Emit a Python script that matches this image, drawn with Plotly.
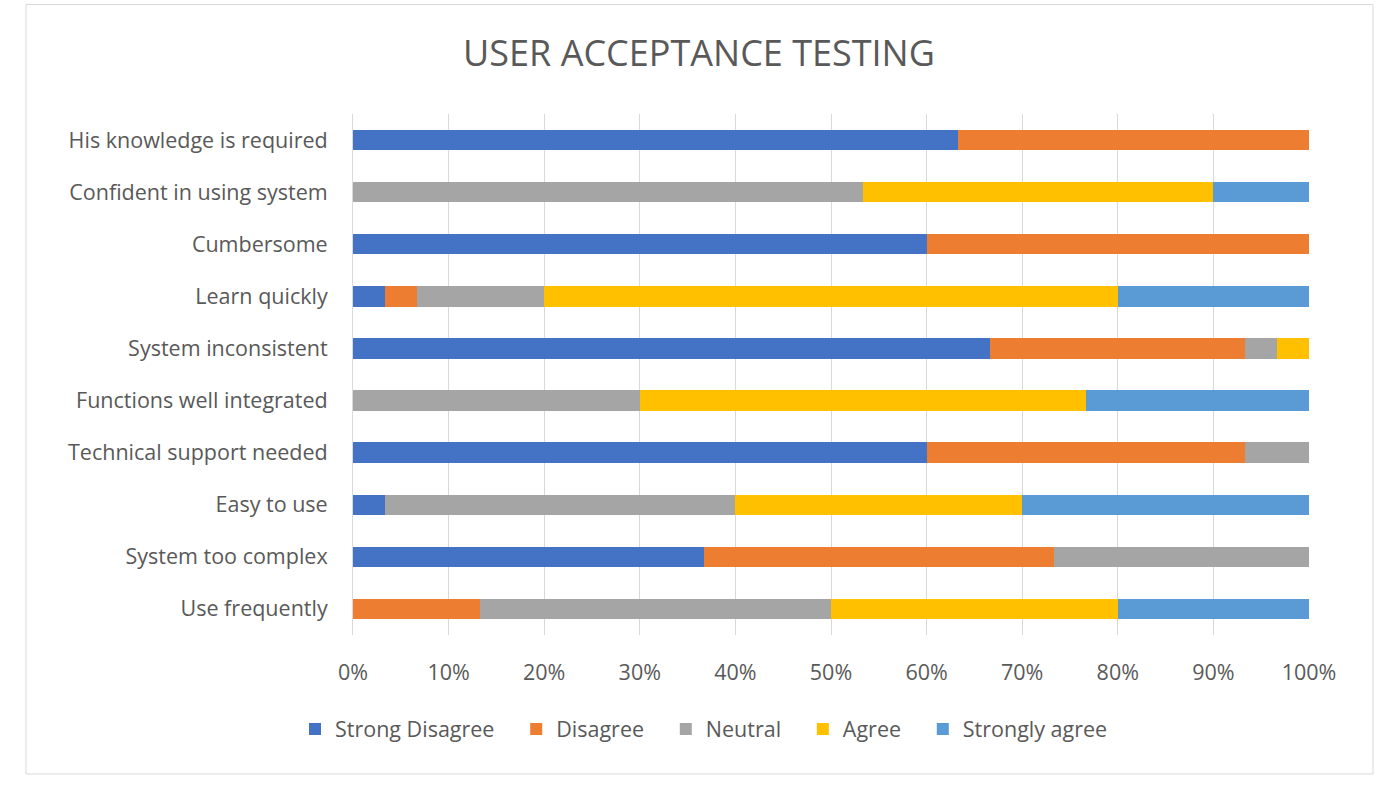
import plotly.graph_objects as go

categories = ["Use frequently", "System too complex", "Easy to use", "Technical support needed",
              "Functions well integrated", "System inconsistent", "Learn quickly", "Cumbersome",
              "Confident in using system", "His knowledge is required"]

# counts out of 30 respondents, per category (bottom to top)
strong_disagree = [0, 11, 1, 18, 0, 20, 1, 18, 0, 19]
disagree        = [4, 11, 0, 10, 0, 8, 1, 12, 0, 11]
neutral         = [11, 8, 11, 2, 9, 1, 4, 0, 16, 0]
agree           = [9, 0, 9, 0, 14, 1, 18, 0, 11, 0]
strongly_agree  = [6, 0, 9, 0, 7, 0, 6, 0, 3, 0]

series_names = ["Strong Disagree", "Disagree", "Neutral", "Agree", "Strongly agree"]
series_values = [strong_disagree, disagree, neutral, agree, strongly_agree]
colors = ["#4472C4", "#ED7D31", "#A5A5A5", "#FFC000", "#5B9BD5"]

FONT = "Open Sans"
GREY = "#595959"
FS = 21.5
PAD = "\u00a0" * 3

fig = go.Figure()
n = len(series_names)
for i, (name, vals, col) in enumerate(zip(series_names, series_values, colors)):
    label = name + (PAD if i < n - 1 else "")
    fig.add_trace(go.Bar(y=categories, x=vals, name=label, orientation="h",
                         marker=dict(color=col, line=dict(width=0))))

W, H = 1395, 785
L, R, T, B = 353, 1309, 114, 635
pw, ph = R - L, B - T

def px_x(p):
    return (p - L) / pw

def px_y(p):
    return (B - p) / ph

fig.update_layout(
    width=W, height=H,
    barmode="stack", barnorm="percent", bargap=0.61,
    margin=dict(l=L, r=W - R, t=T, b=H - B, pad=0),
    paper_bgcolor="white", plot_bgcolor="white",
    font=dict(family=FONT, color=GREY, size=FS),
    title=dict(text="USER ACCEPTANCE TESTING", x=699 / W, xref="container", xanchor="center",
               y=1 - 53 / H, yanchor="middle",
               font=dict(family=FONT, size=36, color=GREY)),
    legend=dict(orientation="h", x=px_x(704), xanchor="center", y=px_y(729), yanchor="middle",
                font=dict(family=FONT, size=FS, color=GREY), traceorder="normal",
                itemwidth=30, itemsizing="constant"),
    xaxis=dict(range=[0, 100], tickvals=[0, 10, 20, 30, 40, 50, 60, 70, 80, 90, 100],
               ticktext=["0%", "10%", "20%", "30%", "40%", "50%", "60%", "70%", "80%", "90%", "100%"],
               showgrid=True, gridcolor="#D9D9D9", gridwidth=1, zeroline=False,
               showline=False, ticks="", ticklabelstandoff=22,
               tickfont=dict(family=FONT, size=FS, color=GREY), fixedrange=True),
    yaxis=dict(categoryorder="array", categoryarray=categories, showgrid=False,
               showline=True, linecolor="#D9D9D9", linewidth=1, ticks="",
               ticklabelstandoff=20, tickfont=dict(family=FONT, size=FS, color=GREY),
               fixedrange=True),
    showlegend=True,
)

fig.add_shape(type="rect", xref="paper", yref="paper",
              x0=px_x(26), x1=px_x(1373), y0=px_y(774), y1=px_y(4.5),
              line=dict(color="#D9D9D9", width=1), fillcolor="rgba(0,0,0,0)", layer="below")

fig.write_html("out.html")
